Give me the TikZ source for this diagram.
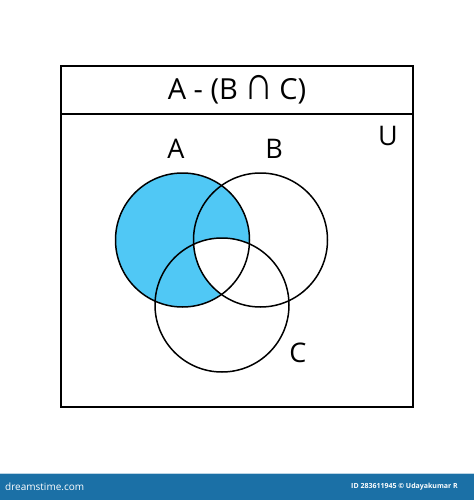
\documentclass[tikz,border=0pt]{standalone}
\usepackage{fontspec}
\usepackage{graphicx}
\setmainfont{Open Sans}
\newfontfamily\symfont{Liberation Sans}
\definecolor{setblue}{RGB}{80,200,245}
\definecolor{barblue}{RGB}{27,112,166}
\begin{document}
\begin{tikzpicture}[x=1pt,y=-1pt,
  setcircle/.style={circle,draw=black,line width=1.5pt,minimum size=134pt,inner sep=0pt},
  setlabel/.style={font=\fontsize{27}{30}\selectfont,inner sep=0pt},
  frame/.style={draw=black,line width=1.8pt}]
\useasboundingbox (0,0) rectangle (474,500);
\fill[white] (0,0) rectangle (474,500);
% shading A - (B cap C)
\fill[setblue] (182.5,240) circle (67);
\begin{scope}
  \clip (260.5,240) circle (67);
  \fill[white] (222,305) circle (67);
\end{scope}
% circles
\node[setcircle] (A) at (182.5,240) {};
\node[setcircle] (B) at (260.5,240) {};
\node[setcircle] (C) at (222,305) {};
% frame
\node[frame,minimum width=352pt,minimum height=341pt,inner sep=0pt] (U) at (237,236.5) {};
\node[frame,minimum width=352pt,minimum height=48pt,inner sep=0pt] (T) at (237,90) {};
\node[font=\fontsize{29}{32}\selectfont,inner sep=0pt] (title) at (T.center) {A - (B {\kern-1.5pt\symfont\fontsize{29}{32}\selectfont\scalebox{1.4}[1.65]{∩}\kern-1.5pt} C)};
% labels
\node[setlabel] (la) at (176,149) {A};
\node[setlabel] (lb) at (274,149) {B};
\node[setlabel] (lu) at (388,136) {U};
\node[setlabel] (lc) at (298,353) {C};
% bottom bar
\fill[barblue] (0,473) rectangle (474,500);
\draw[white!70!barblue,line width=1pt] (0,473.5) -- (474,473.5);
\node[anchor=west,text=white,font=\fontsize{10}{12}\selectfont,inner sep=0pt] (ds) at (5,487) {dreamstime.com};
\node[anchor=east,text=white,font=\bfseries\fontsize{7}{9}\selectfont,inner sep=0pt] (id) at (458,487) {ID 283611945 © Udayakumar R};
\end{tikzpicture}
\end{document}
